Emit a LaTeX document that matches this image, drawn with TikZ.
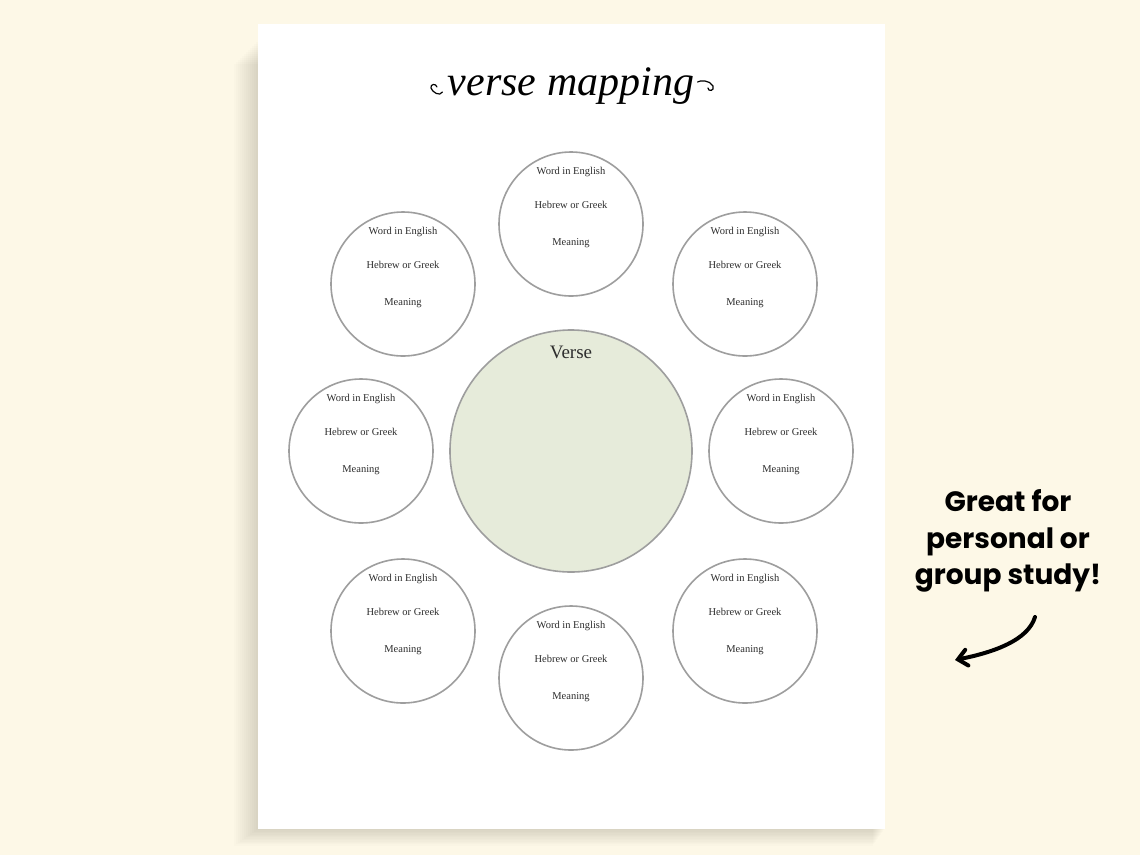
\documentclass[tikz,border=0pt]{standalone}
\usepackage{fontspec}
\usepackage{xcolor}
\usetikzlibrary{arrows.meta}
\setmainfont{Liberation Serif}
\newfontfamily\calloutfont{Poppins}
\definecolor{mapCream}{RGB}{253, 248, 231}
\definecolor{mapSage}{RGB}{230, 235, 218}
\definecolor{mapGray}{RGB}{158, 158, 158}
\definecolor{mapInk}{RGB}{45, 45, 45}

\begin{document}
\begin{tikzpicture}[x=1pt, y=-1pt]
    % Styles
    \tikzstyle{word} = [circle, draw=mapGray, line width=1.6pt, fill=white, minimum size=144pt, inner sep=0pt]
    \tikzstyle{verse} = [circle, draw=mapGray, line width=1.6pt, fill=mapSage, minimum size=242pt, inner sep=0pt]
    \tikzstyle{entry} = [font=\fontsize{10.5}{12}\selectfont, text=mapInk, inner sep=0pt]
    \tikzstyle{callout} = [font=\calloutfont\bfseries\fontsize{28}{36.5}\selectfont, align=center, text=black]
    \tikzstyle{swash} = [line width=1.2pt, line cap=round, black]
    \tikzstyle{arrow} = [-{Straight Barb[length=9pt, width=16pt, line cap=round]}, line width=4pt, line cap=round, black]

    % Background and page
    \useasboundingbox (0,0) rectangle (1140,855);
    \fill[mapCream] (0,0) rectangle (1140,855);
    \foreach \s in {2,4,...,24}
        \fill[black, opacity=0.012] (258-\s, 40+\s) rectangle (885-0.5*\s, 829+0.7*\s);
    \fill[white] (258,24) rectangle (885,829);

    % Title
    \node[font=\fontsize{42}{46}\selectfont\itshape] (title) at (571,86) {verse mapping};
    \draw[swash] (title.west) ++(-2,6) .. controls (440,97) and (432,92) .. (431,88)
        .. controls (430,84) and (436,83) .. (437,87);
    \draw[swash] (title.east) ++(0,-4) .. controls (700,80) and (710,80) .. (713,86)
        .. controls (715,91) and (708,92) .. (708,88);

    % Centre circle
    \node[verse] (verse) at (571,451) {};
    \node[font=\fontsize{19}{22}\selectfont, text=mapInk] (verselbl) at ([yshift=99pt]verse.center) {Verse};

    % Word circles - explicit coordinates
    \node[word] (top) at (571,224) {};
    \node[word] (upl) at (403,284) {};
    \node[word] (upr) at (745,284) {};
    \node[word] (lft) at (361,451) {};
    \node[word] (rgt) at (781,451) {};
    \node[word] (lwl) at (403,631) {};
    \node[word] (lwr) at (745,631) {};
    \node[word] (btm) at (571,678) {};

    % Entries
    \foreach \c in {top,upl,upr,lft,rgt,lwl,lwr,btm} {
        \node[entry] (\c-eng) at ([yshift=52pt]\c.center) {Word in English};
        \node[entry] (\c-heb) at ([yshift=19pt]\c.center) {Hebrew or Greek};
        \node[entry] (\c-mean) at ([yshift=-19pt]\c.center) {Meaning};
    }

    % Callout
    \node[callout] (note) at (1008,541) {Great for\\personal or\\group study!};
    \coordinate (tail) at (1035,617);
    \coordinate (tip) at (955,660);
    \draw[arrow] (tail) .. controls (1028,640) and (995,652) .. (tip);
\end{tikzpicture}
\end{document}
